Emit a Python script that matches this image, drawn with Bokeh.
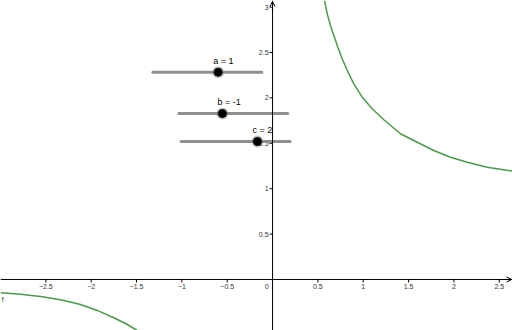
from bokeh.plotting import figure
from bokeh.models import Span, Arrow, OpenHead
from bokeh.core.properties import value
from bokeh.embed import file_html
from bokeh.resources import INLINE

# ---- data ----
right_x = [0.573, 0.603, 0.639, 0.676, 0.720, 0.768, 0.824, 0.896, 0.989, 1.099,
           1.227, 1.411, 1.595, 1.778, 1.962, 2.147, 2.367, 2.646]
right_y = [3.073, 2.926, 2.797, 2.687, 2.559, 2.431, 2.302, 2.155, 2.008, 1.880,
           1.759, 1.605, 1.512, 1.421, 1.347, 1.292, 1.237, 1.193]
left_x = [-2.999, -2.778, -2.558, -2.337, -2.117, -1.933, -1.750, -1.602, -1.492]
left_y = [-0.146, -0.162, -0.187, -0.224, -0.275, -0.341, -0.422, -0.496, -0.562]

x_ticks = [-2.5, -2, -1.5, -1, -0.5, 0.5, 1, 1.5, 2, 2.5]
x_tick_labels = ["\u22122.5", "\u22122", "\u22121.5", "\u22121", "\u22120.5", "0.5", "1", "1.5", "2", "2.5"]
y_ticks = [0.5, 1, 1.5, 2, 2.5, 3]
y_tick_labels = ["0.5", "1", "1.5", "2", "2.5", "3"]

slider_names = ["a", "b", "c"]
slider_values = [1, -1, 2]
slider_min = -5
slider_max = 5

# ---- layout ----
W, H = 512, 330
X0, X1 = -3.0, 2.646
Y0, Y1 = -0.562, 3.073
PX = W / (X1 - X0)      # pixels per x unit
PY = H / (Y1 - Y0)      # pixels per y unit

slider_left = [-1.32, -1.033, -1.007]
slider_y = [2.283, 1.828, 1.52]
slider_len = 1.2

FONT = value("Liberation Sans")
GREEN = "#4a9a4a"

p = figure(width=W, height=H, x_range=(X0, X1), y_range=(Y0, Y1),
           x_axis_type=None, y_axis_type=None, toolbar_location=None,
           output_backend="svg", min_border=0, outline_line_color=None,
           background_fill_color="white", border_fill_color="white")
p.grid.visible = False

# axes
p.add_layout(Span(location=0, dimension="width", line_color="black", line_width=1))
p.add_layout(Span(location=0, dimension="height", line_color="black", line_width=1))
p.add_layout(Arrow(end=OpenHead(size=5, line_width=1, line_color="black"),
                   x_start=X1 - 10 / PX, y_start=0, x_end=X1 - 1 / PX, y_end=0,
                   line_color="black", line_width=1))
p.add_layout(Arrow(end=OpenHead(size=5, line_width=1, line_color="black"),
                   x_start=0, y_start=Y1 - 10 / PY, x_end=0, y_end=Y1 - 1 / PY,
                   line_color="black", line_width=1))

# ticks
p.segment(x0=x_ticks, y0=[0] * len(x_ticks), x1=x_ticks, y1=[-3 / PY] * len(x_ticks),
          line_color="black", line_width=1)
p.segment(x0=[0] * len(y_ticks), y0=y_ticks, x1=[-3 / PX] * len(y_ticks), y1=y_ticks,
          line_color="black", line_width=1)

p.text(x=x_ticks, y=[-5 / PY] * len(x_ticks), text=x_tick_labels,
       text_align="center", text_baseline="top", text_font=FONT,
       text_font_size="7px", text_color="#333333")
p.text(x=[-4 / PX] * len(y_ticks), y=y_ticks, text=y_tick_labels,
       text_align="right", text_baseline="middle", text_font=FONT,
       text_font_size="7px", text_color="#333333")
p.text(x=[-4 / PX], y=[-5 / PY], text=["0"], text_align="right", text_baseline="top",
       text_font=FONT, text_font_size="7px", text_color="#333333")

# function
p.line(right_x, right_y, line_color=GREEN, line_width=1.5, line_join="round")
p.line(left_x, left_y, line_color=GREEN, line_width=1.5, line_join="round")
p.text(x=[X0 + 1 / PX], y=[left_y[0] - 2 / PY], text=["f"], text_align="left",
       text_baseline="top", text_font=FONT, text_font_size="8px", text_color="#2e6b2e")

# sliders
sx0 = slider_left
sx1 = [l + slider_len for l in slider_left]
p.segment(x0=sx0, y0=slider_y, x1=sx1, y1=slider_y, line_color="#8f8f8f",
          line_width=3, line_cap="round")
pt_x = [l + (v - slider_min) / (slider_max - slider_min) * slider_len
        for l, v in zip(slider_left, slider_values)]
p.scatter(pt_x, slider_y, size=12, fill_color="#777777", fill_alpha=0.45, line_color=None)
p.scatter(pt_x, slider_y, size=8, fill_color="black", line_color="black")
labels = [f"{n} = {v}" for n, v in zip(slider_names, slider_values)]
p.text(x=[x - 5 / PX for x in pt_x], y=[y + 6.3 / PY for y in slider_y], text=labels,
       text_align="left", text_baseline="bottom", text_font=FONT,
       text_font_size="9px", text_color="black")

open("out.html", "w").write(file_html(p, INLINE))
